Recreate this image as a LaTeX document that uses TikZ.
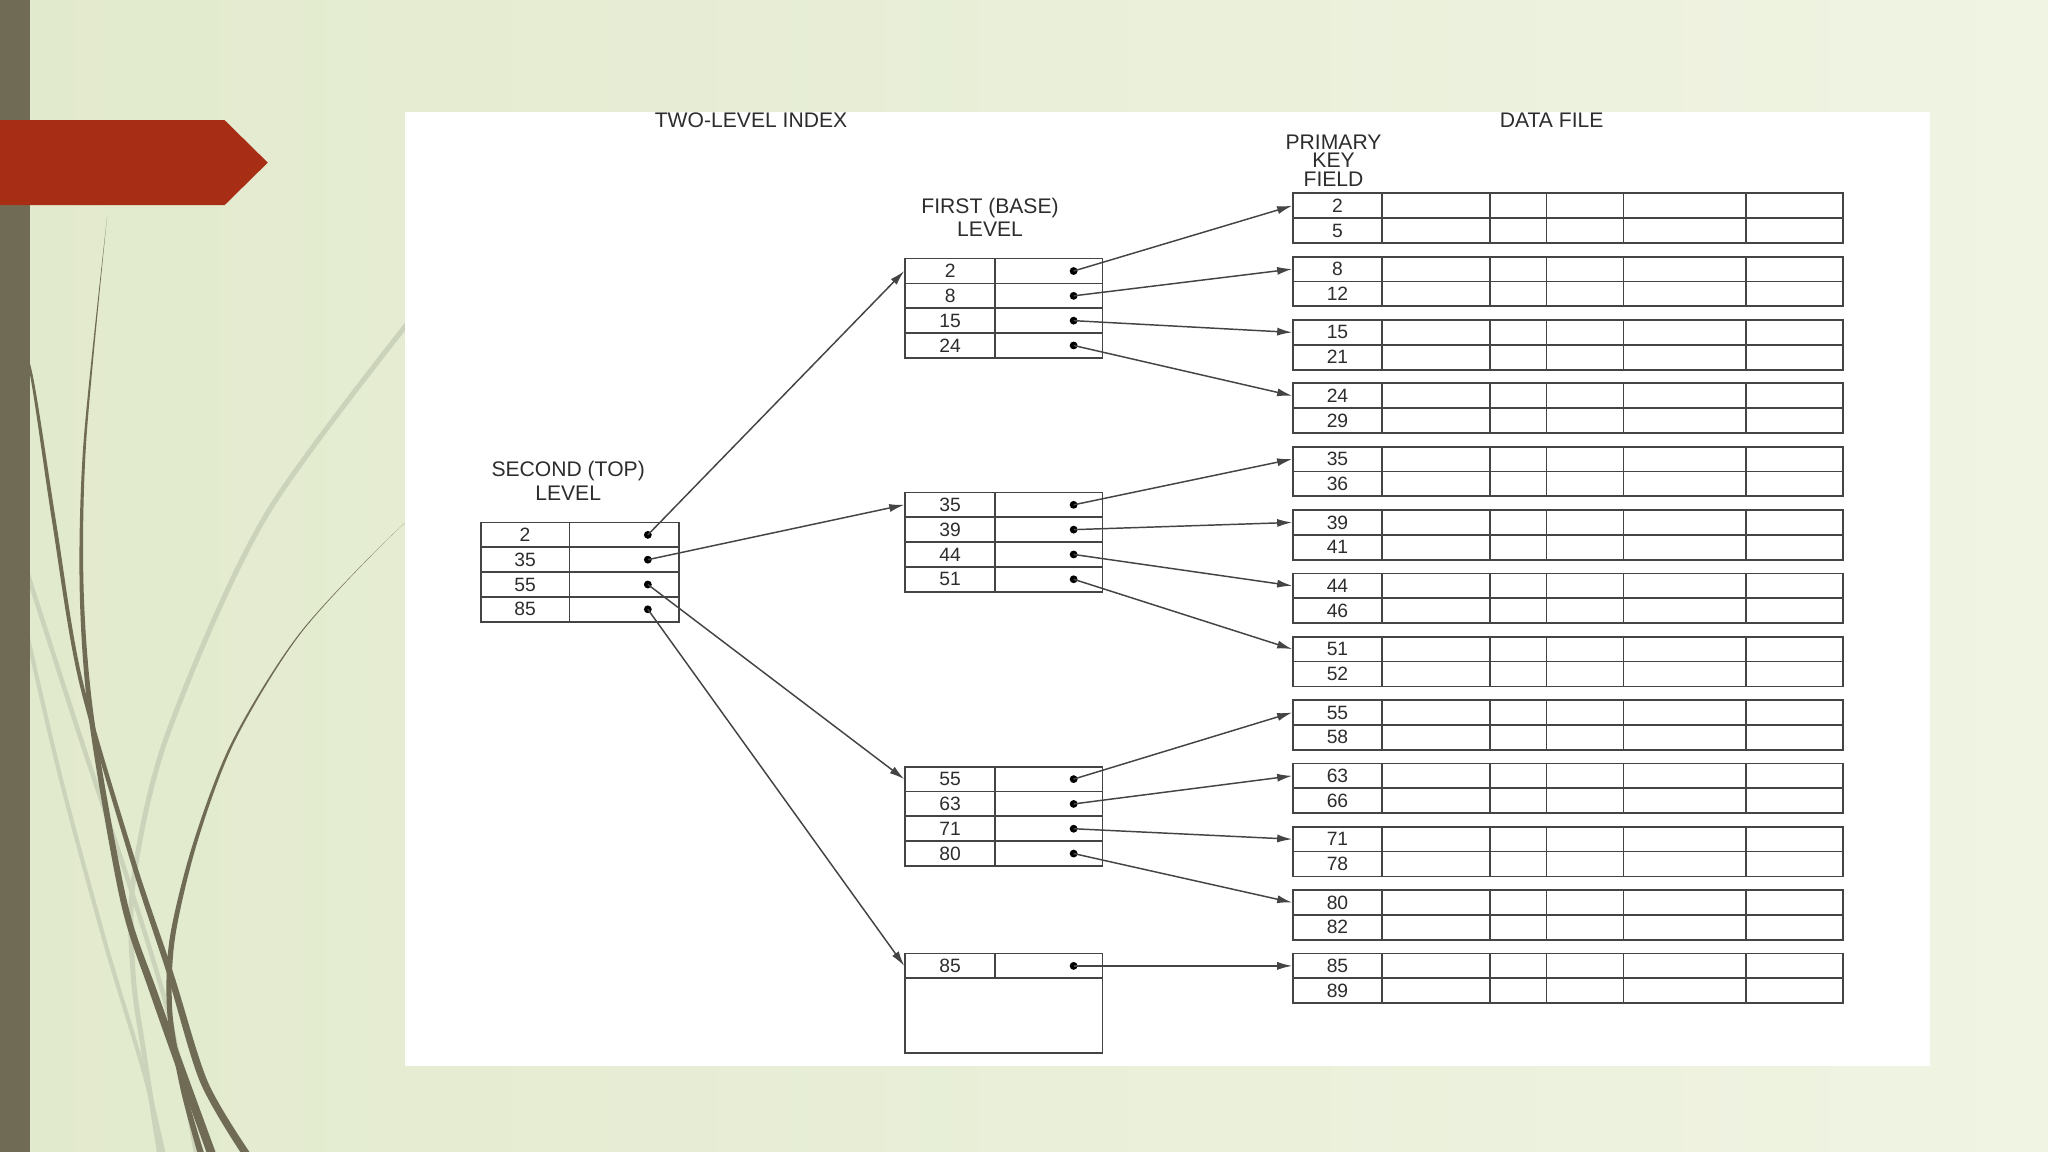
\documentclass[tikz,border=0pt]{standalone}
\usepackage{fontspec}
\setmainfont{Liberation Sans}
\usepackage{tikz}
\usetikzlibrary{arrows.meta, positioning}
\definecolor{slideolive}{RGB}{111,107,84}
\definecolor{slidered}{RGB}{167,45,20}
\definecolor{slidebg}{RGB}{226,234,205}
\definecolor{slidebglt}{RGB}{240,244,227}
\definecolor{reedlight}{RGB}{203,211,186}
\definecolor{inkgray}{RGB}{68,68,68}
\definecolor{txtgray}{RGB}{45,45,45}
\newcommand{\lblfont}{\fontsize{4.6pt}{4.1pt}\selectfont}
\newcommand{\numfont}{\fontsize{4.2pt}{5pt}\selectfont}

\begin{document}
\begin{tikzpicture}[x=0.1mm, y=-0.1mm,
  keycell/.style={rectangle, draw=inkgray, line width=0.38pt, inner sep=0pt,
                  minimum height=1.9mm, font=\numfont, text=txtgray},
  ptrcell/.style={rectangle, draw=inkgray, line width=0.38pt, inner sep=0pt,
                  minimum height=1.9mm},
  dot/.style={circle, fill=black, inner sep=0pt, minimum size=0.6mm},
  lbl/.style={font=\lblfont, text=txtgray, align=center},
  ptr/.style={-{Latex[length=1.15mm, width=0.62mm]}, line width=0.32pt, draw=inkgray},
  gridline/.style={draw=inkgray, line width=0.38pt},
]
  \useasboundingbox (0,0) rectangle (1568,882);

  % slide background
  \shade[left color=slidebg, right color=slidebglt] (0,0) rectangle (1568,882);

  % reeds
  \draw[reedlight, line width=1.1pt] plot[smooth] coordinates
    {(330,225) (204,394) (128,563) (102,675) (102,747) (110,805) (122,882)};
  \draw[reedlight, line width=1pt] plot[smooth] coordinates
    {(15,420) (60,560) (100,680) (130,780) (150,882)};
  \draw[reedlight, line width=0.9pt] plot[smooth] coordinates
    {(15,460) (45,590) (80,720) (110,820) (125,882)};
  \fill[slideolive] plot[smooth] coordinates
    {(82,166) (64,338) (61,450) (68,550) (92,689) (115,761) (158,882)}
    -- plot[smooth] coordinates
    {(165,882) (121,761) (97,689) (72,550) (64,450) (66,338) (82,166)} -- cycle;
  \fill[slideolive] plot[smooth] coordinates
    {(10,240) (23,287) (40,400) (60,520) (100,660) (128,746) (153,828) (184,882)}
    -- plot[smooth] coordinates
    {(191,882) (159,828) (133,746) (104,660) (63,520) (43,400) (25,287) (10,240)} -- cycle;
  \fill[slideolive] plot[smooth] coordinates
    {(330,392) (306,404) (230,484) (178,567) (148,645) (130,718) (128,775) (138,833) (151,882)}
    -- plot[smooth] coordinates
    {(156,882) (142,833) (132,775) (134,718) (151,645) (180,567) (231,484) (306,404) (330,392)} -- cycle;

  \fill[slideolive] (0,0) rectangle (23,882);
  \fill[slidered] (0,92) -- (172,92) -- (205,124.5) -- (172,157) -- (0,157) -- cycle;

  % white panel
  \fill[white] (310,86) rectangle (1478,816);

  % headings
  \node[lbl] (twolevel) at (575,92) {TWO-LEVEL INDEX};
  \node[lbl] (datafile) at (1188,92) {DATA FILE};
  \node[lbl] (pkfield) at (1021,123) {PRIMARY\\KEY\\FIELD};
  \node[lbl] (firstlvl) at (758,166.5) {FIRST (BASE)\\LEVEL};
  \node[lbl] (secondlvl) at (435,368) {SECOND (TOP)\\LEVEL};

  % second (top) level
  \foreach \v [count=\r from 0] in {2,35,55,85} {
    \node[keycell, minimum width=6.8mm] (s\v) at (402,409.5+19*\r) {\v};
    \node[ptrcell, minimum width=8.4mm] at (478,409.5+19*\r) {};
    \node[dot] (sp\v) at (496,409.5+19*\r) {};
  }

  % first (base) level
  \foreach \yb/\a/\b/\c/\d in {198/2/8/15/24, 377/35/39/44/51, 587/55/63/71/80} {
    \foreach \v [count=\r from 0] in {\a,\b,\c,\d} {
      \node[keycell, minimum width=6.9mm] (f\v) at (727.5,\yb+9.5+19*\r) {\v};
      \node[ptrcell, minimum width=8.2mm] at (803,\yb+9.5+19*\r) {};
      \node[dot] (fp\v) at (822,\yb+9.5+19*\r) {};
    }
  }
  \node[keycell, minimum width=6.9mm] (f85) at (727.5,739.5) {85};
  \node[ptrcell, minimum width=8.2mm] at (803,739.5) {};
  \node[dot] (fp85) at (822,739.5) {};
  \draw[gridline] (693,749) rectangle (844,806);

  % data file blocks
  \foreach \a/\b [count=\i from 0] in {2/5, 8/12, 15/21, 24/29, 35/36, 39/41, 44/46,
                                       51/52, 55/58, 63/66, 71/78, 80/82, 85/89} {
    \pgfmathsetmacro{\yb}{148+48.5*\i}
    \node[keycell, minimum width=6.8mm] (d\a) at (1024,\yb+9.5) {\a};
    \node[keycell, minimum width=6.8mm] at (1024,\yb+28.5) {\b};
    \draw[gridline] (1058,\yb) rectangle (1411,\yb+38)
      (1058,\yb+19) -- (1411,\yb+19);
    \foreach \cx in {1141,1184,1243,1337}
      \draw[gridline] (\cx,\yb) -- (\cx,\yb+38);
  }

  % pointers
  \foreach \v in {2,35,55,85}
    \draw[ptr] (sp\v.center) -- (f\v.west);
  \foreach \v in {2,8,15,24,35,39,44,51,55,63,71,80,85}
    \draw[ptr] (fp\v.center) -- (d\v.west);
\end{tikzpicture}
\end{document}
